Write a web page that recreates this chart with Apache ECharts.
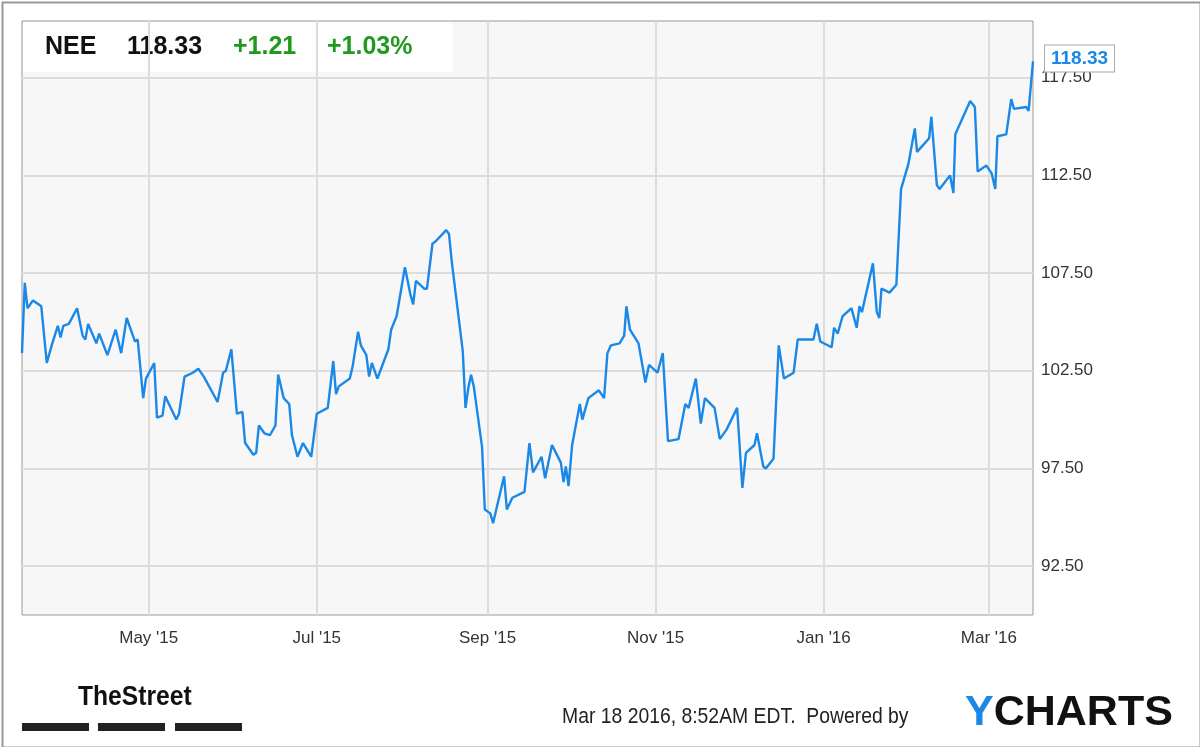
<!DOCTYPE html>
<html>
<head>
<meta charset="utf-8">
<script src="https://cdn.jsdelivr.net/npm/echarts@6/dist/echarts.min.js"></script>
<style>
  html, body { margin: 0; padding: 0; background: #fff; }
  #main { width: 1200px; height: 747px; }
</style>
</head>
<body>
<div id="main"></div>
<script>
// days since 16 Mar 2015
var days = [0, 1, 2, 4, 7, 9, 11, 13, 14, 15, 17, 20, 22, 23, 24, 27, 28, 31, 34, 36, 38, 41, 42, 44, 45, 48, 49, 51, 52, 56, 57, 59, 62, 64, 66, 71, 73, 74, 76, 78, 80, 81, 84, 85, 86, 88, 90, 92, 93, 95, 97, 98, 100, 102, 105, 107, 111, 113, 114, 115, 119, 120, 122, 123, 125, 126, 127, 129, 133, 134, 136, 139, 141, 142, 143, 146, 147, 149, 150, 154, 155, 156, 160, 161, 162, 163, 164, 167, 168, 170, 171, 175, 176, 178,
  182.4, 184.2, 185.5, 188.6, 189.9, 192.4, 195.6, 196.6, 197.4, 198.4, 199.7, 202.5, 203.4, 205.6, 209.4, 211.3, 212.5, 213.8, 216.9, 218.6, 219.4, 220.7, 223.8, 226.3, 227.6, 230.7, 232.6, 234.5, 238.3, 240.8, 242, 244.6, 246.4, 247.9, 251.4, 253.3, 255.8, 259.6, 261.5, 262.8, 265.9, 266.8, 269.1, 270, 272.8, 274.7, 276.6, 280.1, 281.6, 287.3, 288.5, 289.8, 293.9, 294.8, 296.1, 297.9, 301.1, 303, 304, 304.9, 308.9, 310.3, 311.2, 312, 314.9, 317.4, 319.1, 321.8, 324.1, 324.9, 329.3, 330.1, 332.1, 333.1, 336.9, 338.1, 338.8, 340.7, 344.2, 345.9, 346.9, 350.1, 352, 353.3, 354.1, 357.3, 359.1, 360.1, 364.5, 365.4, 367];
var prices = [103.4, 107.0, 105.7, 106.1, 105.8, 102.9, 103.9, 104.8, 104.2, 104.8, 104.9, 105.7, 104.3, 104.1, 104.9, 103.9, 104.4, 103.3, 104.6, 103.4, 105.2, 104.0, 104.1, 101.1, 102.1, 102.9, 100.1, 100.2, 101.2, 100.0, 100.3, 102.2, 102.4, 102.6, 102.2, 100.9, 102.4, 102.5, 103.6, 100.3, 100.4, 98.8, 98.2, 98.3, 99.7, 99.3, 99.2, 99.7, 102.3, 101.1, 100.8, 99.2, 98.1, 98.8, 98.1, 100.3, 100.6, 103.0, 101.3, 101.7, 102.1, 102.7, 104.5, 103.8, 103.3, 102.2, 102.9, 102.1, 103.6, 104.6, 105.3, 107.8, 106.4, 105.9, 107.1, 106.7, 106.7, 109.0, 109.1, 109.7, 109.5, 108.1, 103.5, 100.6, 101.6, 102.3, 101.7, 98.6, 95.4, 95.2, 94.7, 97.1, 95.4, 96.0,
  96.3, 98.8, 97.3, 98.1, 97.0, 98.7, 97.8, 96.8, 97.6, 96.6, 98.7, 100.8, 100.0, 101.1, 101.5, 101.1, 103.4, 103.8, 103.9, 104.3, 105.8, 104.6, 103.9, 101.9, 102.8, 102.4, 103.4, 98.9, 99.0, 100.8, 100.6, 102.1, 99.8, 101.1, 100.6, 99.0, 99.5, 100.6, 96.5, 98.3, 98.7, 99.3, 97.6, 97.5, 98.0, 103.8, 102.1, 102.4, 104.1, 104.1, 104.9, 104.0, 103.7, 104.7, 104.4, 105.3, 105.7, 104.7, 105.8, 105.5, 108.0, 105.5, 105.2, 106.7, 106.5, 106.9, 111.8, 113.1, 114.9, 113.7, 114.4, 115.5, 112.0, 111.8, 112.5, 111.6, 114.6, 115.2, 116.3, 116.0, 112.7, 113.0, 112.6, 111.8, 114.5, 114.6, 116.4, 115.9, 116.0, 115.8, 118.33];
var yTicks = [92.5, 97.5, 102.5, 107.5, 112.5, 117.5];
// month starts as days since 16 Mar 2015
var monthDays = [46, 107, 169, 230, 291, 351];
var monthLabels = ["May '15", "Jul '15", "Sep '15", "Nov '15", "Jan '16", "Mar '16"];

var seriesData = days.map(function (d, i) { return [d, prices[i]]; });

var chart = echarts.init(document.getElementById('main'));
var head = { fontSize: 25, fontWeight: 'bold', fontFamily: 'Liberation Sans' };
function headText(x, txt, col) {
  return { type: 'text', left: x, top: 35, style: Object.assign({ text: txt, fill: col }, head) };
}
var option = {
  animation: false,
  backgroundColor: '#fff',
  grid: { left: 22, right: 167, top: 21, bottom: 132, show: true, backgroundColor: '#f7f7f7', borderColor: '#999', borderWidth: 1 },
  xAxis: {
    type: 'value',
    min: 0,
    max: 367,
    axisLine: { show: false },
    axisTick: { show: false, customValues: monthDays },
    axisLabel: {
      customValues: monthDays,
      color: '#333', fontSize: 17, fontFamily: 'Liberation Sans', margin: 15,
      formatter: function (v) { return monthLabels[monthDays.indexOf(v)]; }
    },
    splitLine: { show: true, lineStyle: { color: '#dcdcdc', width: 2 } }
  },
  yAxis: {
    type: 'value',
    position: 'right',
    min: 90,
    max: 120.4,
    axisLine: { show: false },
    axisTick: { show: false, customValues: yTicks },
    axisLabel: {
      customValues: yTicks,
      color: '#333', fontSize: 17, fontFamily: 'Liberation Sans', margin: 8,
      formatter: function (v) { return v.toFixed(2); }
    },
    splitLine: { show: true, lineStyle: { color: '#dcdcdc', width: 2 } }
  },
  series: [{
    type: 'line',
    data: seriesData,
    showSymbol: false,
    lineStyle: { color: '#1a88e6', width: 2.4 },
    endLabel: {
      show: true,
      formatter: function (p) { return p.value[1].toFixed(2); },
      color: '#1a88e6', fontSize: 19, fontWeight: 'bold', fontFamily: 'Liberation Sans',
      backgroundColor: '#fff', borderColor: '#aaa', borderWidth: 1,
      padding: [4, 6, 3, 6], distance: 12, offset: [0, -3]
    }
  }],
  graphic: [
    { type: 'rect', left: 0, top: 0, shape: { width: 1198, height: 745 }, style: { fill: 'none', stroke: '#999', lineWidth: 2 } },
    { type: 'rect', left: 23, top: 22, shape: { width: 430, height: 50 }, style: { fill: 'rgba(255,255,255,0.85)' } },
    headText(45, 'NEE', '#111'),
    headText(127, '118.33', '#111'),
    headText(233, '+1.21', '#1f9a1f'),
    headText(327, '+1.03%', '#1f9a1f'),
    { type: 'text', left: 78, top: 683, scaleX: 0.88, style: { text: 'TheStreet', fontSize: 28, fontWeight: 'bold', fill: '#111', fontFamily: 'Liberation Sans' } },
    { type: 'rect', left: 22, top: 723, shape: { width: 67, height: 8 }, style: { fill: '#222' } },
    { type: 'rect', left: 98, top: 723, shape: { width: 67, height: 8 }, style: { fill: '#222' } },
    { type: 'rect', left: 175, top: 723, shape: { width: 67, height: 8 }, style: { fill: '#222' } },
    { type: 'text', left: 562, top: 706, scaleX: 0.88, style: { text: 'Mar 18 2016, 8:52AM EDT.  Powered by', fontSize: 22, fill: '#222', fontFamily: 'Liberation Sans' } },
    { type: 'text', left: 965, top: 692, style: {
      text: '{y|Y}{c|CHARTS}',
      rich: {
        y: { fontSize: 43, fontWeight: 'bold', fill: '#1a88e6', fontFamily: 'Liberation Sans' },
        c: { fontSize: 43, fontWeight: 'bold', fill: '#111', fontFamily: 'Liberation Sans' }
      }
    } }
  ]
};
chart.setOption(option);
</script>
</body>
</html>
